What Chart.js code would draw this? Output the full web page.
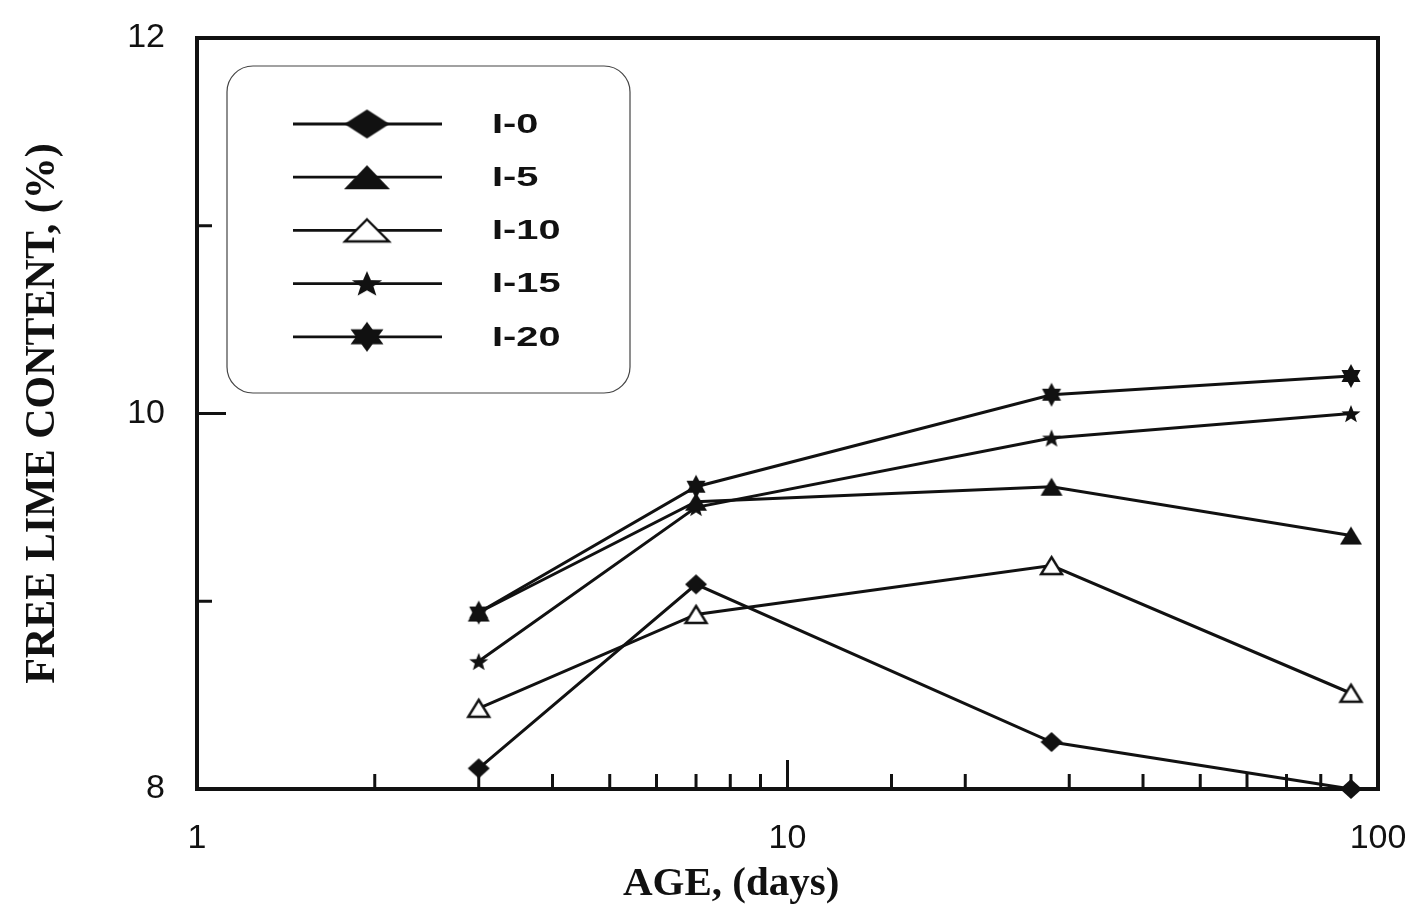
<!DOCTYPE html>
<html><head><meta charset="utf-8">
<script src="https://cdn.jsdelivr.net/npm/chart.js@4.4.0/dist/chart.umd.min.js"></script>
<style>html,body{margin:0;padding:0;background:#fff;overflow:hidden}#wrap{width:1405px;height:916px;position:relative}</style>
</head><body><div id="wrap"><canvas id="c" width="1405" height="916"></canvas></div>
<script>
// ---- data ----
const ages = [3, 7, 28, 90];
const seriesNames = ['I-0', 'I-5', 'I-10', 'I-15', 'I-20'];
const i0  = [8.11, 9.09, 8.25, 8.00];
const i5  = [8.94, 9.53, 9.61, 9.35];
const i10 = [8.43, 8.93, 9.19, 8.51];
const i15 = [8.68, 9.50, 9.87, 10.00];
const i20 = [8.94, 9.61, 10.10, 10.20];
const xTickLabels = [1, 10, 100];
const yTickLabels = [8, 10, 12];
const xTitle = 'AGE, (days)';
const yTitle = 'FREE LIME CONTENT, (%)';

const INK = '#111';

function marker(kind, w, h) {
  const pad = 3;
  const c = document.createElement('canvas');
  c.width = Math.ceil(w + pad * 2);
  c.height = Math.ceil(h + pad * 2);
  const g = c.getContext('2d');
  const cx = c.width / 2, cy = c.height / 2;
  g.fillStyle = INK; g.strokeStyle = INK; g.lineJoin = 'miter';
  if (kind === 'diamond') {
    g.beginPath();
    g.moveTo(cx, cy - h / 2); g.lineTo(cx + w / 2, cy); g.lineTo(cx, cy + h / 2); g.lineTo(cx - w / 2, cy);
    g.closePath(); g.fill();
  } else if (kind === 'tri' || kind === 'triOpen') {
    g.beginPath();
    g.moveTo(cx, cy - h / 2); g.lineTo(cx + w / 2, cy + h / 2); g.lineTo(cx - w / 2, cy + h / 2);
    g.closePath();
    if (kind === 'tri') { g.fill(); }
    else { g.fillStyle = '#fff'; g.fill(); g.lineWidth = 2.4; g.stroke(); }
  } else if (kind === 'star5') {
    g.beginPath();
    for (let i = 0; i < 10; i++) {
      const a = -Math.PI / 2 + i * Math.PI / 5;
      const r = i % 2 === 0 ? 1 : 0.42;
      const px = cx + Math.cos(a) * r * w / 2;
      const py = cy + 1 + Math.sin(a) * r * h / 2;
      if (i === 0) g.moveTo(px, py); else g.lineTo(px, py);
    }
    g.closePath(); g.fill();
  } else if (kind === 'star6') {
    [ -Math.PI / 2, Math.PI / 2 ].forEach(start => {
      g.beginPath();
      for (let i = 0; i < 3; i++) {
        const a = start + i * 2 * Math.PI / 3;
        const px = cx + Math.cos(a) * w / 2;
        const py = cy + Math.sin(a) * h / 2;
        if (i === 0) g.moveTo(px, py); else g.lineTo(px, py);
      }
      g.closePath(); g.fill();
    });
  }
  return c;
}

const plotMarkers = [
  marker('diamond', 22, 20),
  marker('tri', 22, 18),
  marker('triOpen', 21, 17),
  marker('star5', 20, 19),
  marker('star6', 22, 24)
];
const legendMarkers = [
  marker('diamond', 45, 29),
  marker('tri', 46, 24),
  marker('triOpen', 44, 22),
  marker('star5', 32, 27),
  marker('star6', 38, 30)
];

const seriesValues = [i0, i5, i10, i15, i20];
const datasets = seriesValues.map((vals, k) => ({
  label: seriesNames[k],
  data: ages.map((a, i) => ({ x: a, y: vals[i] })),
  borderColor: INK,
  backgroundColor: INK,
  borderWidth: 3,
  pointStyle: plotMarkers[k],
  pointRadius: 10,
  pointHoverRadius: 10,
  tension: 0,
  clip: false
}));

function isDecade(v) {
  const l = Math.log10(v);
  return Math.abs(l - Math.round(l)) < 1e-9;
}

const framePlugin = {
  id: 'frame',
  beforeDatasetsDraw(chart) {
    const { ctx, chartArea: a, scales: { x, y } } = chart;
    ctx.save();
    ctx.strokeStyle = INK;
    ctx.lineWidth = 3;
    x.ticks.forEach(t => {
      const px = x.getPixelForValue(t.value);
      const len = isDecade(t.value) ? 29 : 15;
      ctx.beginPath(); ctx.moveTo(px, a.bottom); ctx.lineTo(px, a.bottom - len); ctx.stroke();
    });
    y.ticks.forEach(t => {
      const py = y.getPixelForValue(t.value);
      const len = yTickLabels.includes(t.value) ? 29 : 15;
      ctx.beginPath(); ctx.moveTo(a.left, py); ctx.lineTo(a.left + len, py); ctx.stroke();
    });
    ctx.lineWidth = 4;
    ctx.strokeRect(a.left, a.top, a.right - a.left, a.bottom - a.top);
    ctx.restore();
  }
};

function roundRect(ctx, x, y, w, h, r) {
  ctx.beginPath();
  ctx.moveTo(x + r, y);
  ctx.lineTo(x + w - r, y); ctx.arcTo(x + w, y, x + w, y + r, r);
  ctx.lineTo(x + w, y + h - r); ctx.arcTo(x + w, y + h, x + w - r, y + h, r);
  ctx.lineTo(x + r, y + h); ctx.arcTo(x, y + h, x, y + h - r, r);
  ctx.lineTo(x, y + r); ctx.arcTo(x, y, x + r, y, r);
  ctx.closePath();
}

const legendPlugin = {
  id: 'boxLegend',
  afterDraw(chart) {
    const { ctx, chartArea: a } = chart;
    const bx = a.left + 30, by = a.top + 28, bw = 403, bh = 327;
    ctx.save();
    ctx.fillStyle = '#fff';
    roundRect(ctx, bx, by, bw, bh, 26);
    ctx.fill();
    ctx.strokeStyle = '#444';
    ctx.lineWidth = 1.2;
    ctx.stroke();
    const rowY0 = by + 58, rowGap = 53.2;
    const lineX0 = bx + 66, lineX1 = bx + 215, mx = bx + 140, tx = bx + 265;
    chart.data.datasets.forEach((ds, k) => {
      const ry = rowY0 + k * rowGap;
      ctx.strokeStyle = INK; ctx.lineWidth = 2.8;
      ctx.beginPath(); ctx.moveTo(lineX0, ry); ctx.lineTo(lineX1, ry); ctx.stroke();
      const m = legendMarkers[k];
      ctx.drawImage(m, mx - m.width / 2, ry - m.height / 2);
      ctx.save();
      ctx.translate(tx, ry + 1);
      ctx.scale(1.42, 1);
      ctx.fillStyle = INK;
      ctx.font = 'bold 28px "Liberation Sans", Arial, sans-serif';
      ctx.textAlign = 'left'; ctx.textBaseline = 'middle';
      ctx.fillText(ds.label, 0, 0);
      ctx.restore();
    });
    ctx.restore();
  }
};

new Chart(document.getElementById('c'), {
  type: 'line',
  data: { datasets },
  options: {
    responsive: false,
    animation: false,
    events: [],
    layout: { padding: { top: 38, right: 27, left: 0, bottom: 0 } },
    plugins: { legend: { display: false }, tooltip: { enabled: false } },
    scales: {
      x: {
        type: 'logarithmic', min: 1, max: 100, position: 'bottom',
        grid: { display: false, drawTicks: false },
        border: { display: false },
        ticks: {
          autoSkip: false, maxRotation: 0, minRotation: 0, padding: 29, color: INK,
          font: { family: '"Liberation Sans", Arial, sans-serif', size: 34 },
          callback: v => xTickLabels.some(t => Math.abs(t - v) < 1e-9) ? String(v) : ''
        },
        title: {
          display: true, text: xTitle + '\u00A0'.repeat(11), color: INK,
          font: { family: '"Liberation Serif", "Times New Roman", serif', size: 41, weight: 'bold' },
          padding: { top: 0, bottom: 7 }
        },
        afterFit: s => { s.height = 127; s.paddingLeft = 0; s.paddingRight = 0; }
      },
      y: {
        type: 'linear', min: 8, max: 12,
        grid: { display: false, drawTicks: false },
        border: { display: false },
        ticks: {
          stepSize: 1, padding: 32, color: INK,
          font: { family: '"Liberation Sans", Arial, sans-serif', size: 34 },
          callback: v => yTickLabels.includes(v) ? String(v) : ''
        },
        title: {
          display: true, text: yTitle, color: INK,
          font: { family: '"Liberation Serif", "Times New Roman", serif', size: 42, weight: 'bold' },
          padding: { top: 18, bottom: 0 }
        },
        afterFit: s => { s.width = 197; s.paddingTop = 0; s.paddingBottom = 0; }
      }
    }
  },
  plugins: [framePlugin, legendPlugin]
});
</script>
</body></html>
